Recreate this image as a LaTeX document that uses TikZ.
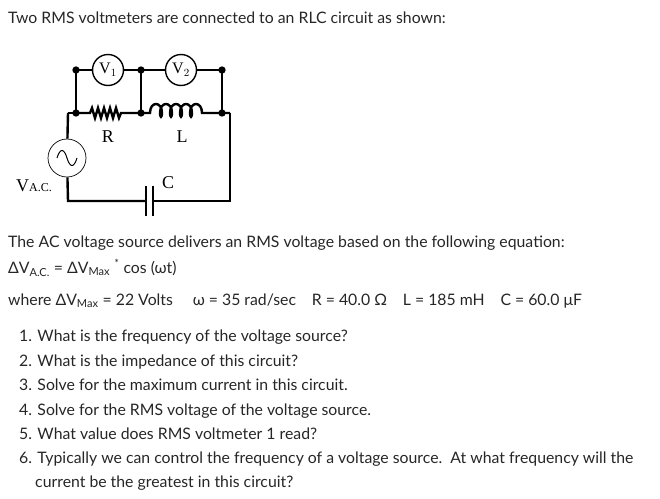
\documentclass[tikz,border=0pt]{standalone}
\usepackage{fontspec}
\setmainfont{Lato}
\newfontfamily\cirf{Liberation Serif}
\begin{document}
\begin{tikzpicture}[x=1pt,y=-1pt,
  txt/.style={anchor=base west,inner sep=0,font=\fontsize{15.8}{17}\selectfont,text=black!85},
  wire/.style={line width=2.4pt},
  dot/.style={circle,fill,inner sep=2.6pt},
  meter/.style={circle,draw,line width=1.4pt,minimum size=31pt,inner sep=0,font=\cirf\fontsize{16}{16}\selectfont},
  clab/.style={font=\cirf\fontsize{18}{18}\selectfont,inner sep=0}]
\useasboundingbox (0,0) rectangle (660,498);
\node[txt] (t0) at (8,23) {Two RMS voltmeters are connected to an RLC circuit as shown:};
% circuit
\coordinate (a) at (76,70); \coordinate (b) at (141,70); \coordinate (c) at (222,70);
\coordinate (d) at (76,113); \coordinate (e) at (141,113); \coordinate (f) at (222,113);
\coordinate (g) at (68,113); \coordinate (h) at (230,113);
\coordinate (bl) at (68,201); \coordinate (br) at (230,201);
\node[meter] (v1) at (108,70) {V$_1$};
\node[meter] (v2) at (181,70) {V$_2$};
\node[circle,draw,line width=0.7pt,minimum size=38pt] (src) at (67,158) {};
\draw[line width=1pt] (57,158) .. controls (60,148) and (64,148) .. (67,158) .. controls (70,168) and (74,168) .. (77,158);
\draw[wire] (a) -- (v1) -- (v2) -- (c) -- (f);
\draw[wire] (a) -- (d); \draw[wire] (b) -- (e);
\draw[wire,line join=miter] (d) -- (90,113) -- ++(2,-5) -- ++(3,10) -- ++(3,-10) -- ++(3,10) -- ++(3,-10) -- ++(3,10) -- ++(3,-10) -- ++(3,10) -- ++(3,-10) -- ++(3,10) -- ++(2,-5) -- (e);
\draw[wire] (e) -- (150,113)
  foreach \i in {0,...,4} { .. controls (150+\i*10,101) and (162+\i*10,101) .. (162+\i*10,113) \ifnum\i<4 .. controls (162+\i*10,118) and (160+\i*10,118) .. (160+\i*10,113)\fi } -- (h);
\draw[wire] (g) -- (d); \draw[wire] (g) -- (src); \draw[wire] (src) -- (bl) -- (146,201);
\draw[wire] (146,186) -- (146,216); \draw[wire] (153,186) -- (153,216);
\draw[wire] (153,201) -- (br) -- (h);
\node[dot] at (a) {}; \node[dot] at (b) {}; \node[dot] at (d) {}; \node[dot] at (e) {}; \node[dot] at (f) {}; \node[dot] at (c) {};
\node[clab] (rl) at (108,137) {R};
\node[clab] (ll) at (182,137) {L};
\node[clab] (cl) at (168,183) {C};
\node[clab,anchor=west] (vl) at (16,186) {V\fontsize{12}{12}\selectfont A.C.};
% text
\node[txt] at (8,247) {The AC voltage source delivers an RMS voltage based on the following equation:};
\node[txt] at (8,273) {ΔV\textsubscript{A.C.} = ΔV\textsubscript{Max} \textsuperscript{*} cos (ωt)};
\node[txt] at (8,305) {where ΔV\textsubscript{Max} = 22 Volts\quad\ ω = 35 rad/sec\quad R = 40.0 Ω\quad L = 185 mH\quad C = 60.0 μF};
\node[txt] at (19,341) {1. What is the frequency of the voltage source?};
\node[txt] at (19,366) {2. What is the impedance of this circuit?};
\node[txt] at (19,390) {3. Solve for the maximum current in this circuit.};
\node[txt] at (19,415) {4. Solve for the RMS voltage of the voltage source.};
\node[txt] at (19,439) {5. What value does RMS voltmeter 1 read?};
\node[txt] at (19,463) {6. Typically we can control the frequency of a voltage source.\ \ At what frequency will the};
\node[txt] at (35,487) {current be the greatest in this circuit?};
\end{tikzpicture}
\end{document}
